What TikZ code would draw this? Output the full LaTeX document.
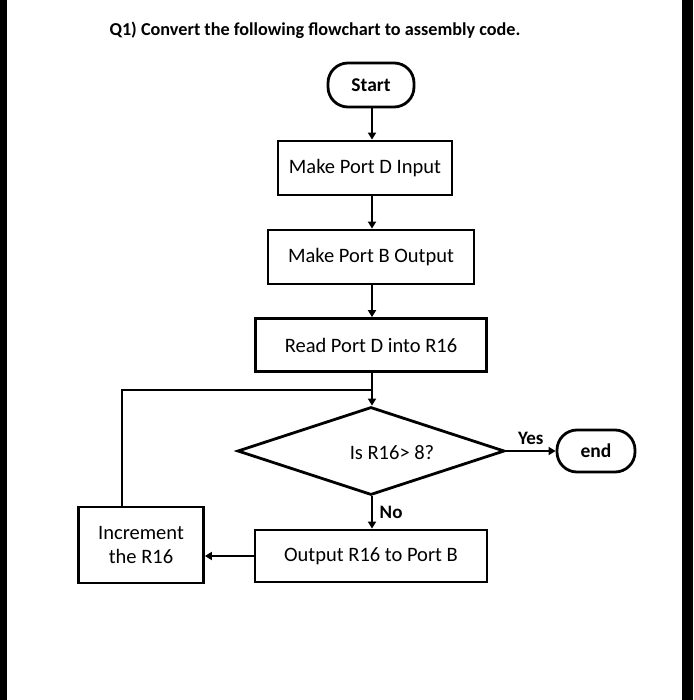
\documentclass[tikz,border=0pt]{standalone}
\usepackage{fontspec}
\setmainfont{Carlito}
\usetikzlibrary{shapes.geometric,arrows.meta}
\begin{document}
\begin{tikzpicture}[x=1pt,y=-1pt,
  box/.style={draw,line width=2.8pt,inner sep=0pt,font=\fontsize{20.5}{24}\selectfont},
  term/.style={box,rounded corners=20pt,font=\fontsize{19.5}{22}\selectfont\bfseries},
  arr/.style={line width=2.8pt,-{Triangle[length=7pt,width=8pt]}},
  lbl/.style={font=\fontsize{19}{22}\selectfont\bfseries}]
\fill[black] (0,0) rectangle (693,700);
\fill[white] (7,0) rectangle (682,700);
\useasboundingbox (0,0) rectangle (693,700);
\node[lbl,font=\fontsize{18.2}{22}\selectfont\bfseries,anchor=west] (title) at (106,30) {Q1) Convert the following flowchart to assembly code.};
\node[term,minimum width=86pt,minimum height=44pt] (start) at (371,85) {Start};
\node[box,minimum width=174pt,minimum height=54pt] (b1) at (365,168) {Make Port D Input};
\node[box,minimum width=206pt,minimum height=54pt] (b2) at (371,257) {Make Port B Output};
\node[box,minimum width=231pt,minimum height=53pt] (b3) at (371,345) {Read Port D into R16};
\node[box,diamond,aspect=3,minimum width=267pt,minimum height=88pt] (d) at (371,451) {};
\node[font=\fontsize{20.5}{24}\selectfont] (dt) at (392,453) {Is R16> 8?};
\node[term,minimum width=78pt,minimum height=42pt] (end) at (596,451) {end};
\node[box,minimum width=232pt,minimum height=52pt] (out) at (371,556) {Output R16 to Port B};
\node[box,minimum width=125pt,minimum height=76pt,align=center] (inc) at (141,545) {Increment\\the R16};
\coordinate (j) at (372,390);
\draw[arr] (start.south -| 372,0) -- (b1.north -| 372,0);
\draw[arr] (b1.south -| 372,0) -- (b2.north -| 372,0);
\draw[arr] (b2.south -| 372,0) -- (b3.north -| 372,0);
\draw[line width=2.8pt] (b3.south -| 372,0) -- (j);
\draw[arr] (j) -- (d.north -| 372,0);
\draw[arr] (d.east) -- node[lbl,above=2pt]{Yes} (end.west);
\draw[arr] (d.south -| 372,0) -- node[lbl,right=3pt]{No} (out.north -| 372,0);
\draw[arr] (out.west) -- (inc.east |- out.west);
\draw[line width=2.8pt] (inc.north -| 122,0) -- (122,390) -- (j);
\end{tikzpicture}
\end{document}
